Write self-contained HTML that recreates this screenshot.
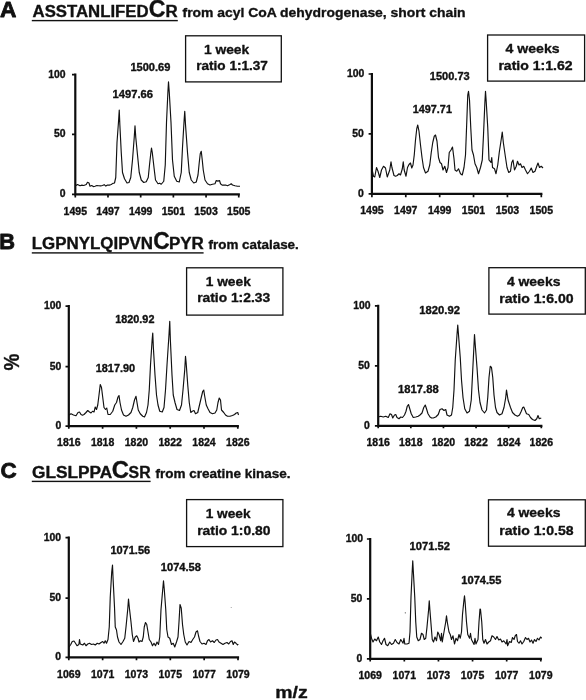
<!DOCTYPE html>
<html><head><meta charset="utf-8"><title>Figure</title>
<style>
html,body{margin:0;padding:0;background:#fff;}
svg{display:block;font-family:'Liberation Sans', Arial, Helvetica, sans-serif;font-weight:bold;fill:#111;}
text{stroke:#111;stroke-width:0.35px;stroke-linejoin:round;}
</style></head>
<body>
<svg width="586" height="700" viewBox="0 0 586 700">
<rect width="586" height="700" fill="#fff"/>
<path d="M75.30 73.50V194.30H239.85" fill="none" stroke="#0d0d0d" stroke-width="2.2" stroke-linejoin="miter"/>
<path d="M75.30 194.30h-3.3M75.30 134.45h-3.3M75.30 74.60h-3.3M75.30 194.30v3.3M107.99 194.30v3.3M140.68 194.30v3.3M173.37 194.30v3.3M206.06 194.30v3.3M238.75 194.30v3.3" fill="none" stroke="#0d0d0d" stroke-width="1.7"/>
<text x="65.60" y="197.20" font-size="10.4" text-anchor="end">0</text>
<text x="65.60" y="137.35" font-size="10.4" text-anchor="end">50</text>
<text x="65.60" y="77.50" font-size="10.4" text-anchor="end">100</text>
<text x="75.30" y="214.50" font-size="10.4" text-anchor="middle" textLength="23.40" lengthAdjust="spacingAndGlyphs">1495</text>
<text x="107.99" y="214.50" font-size="10.4" text-anchor="middle" textLength="23.40" lengthAdjust="spacingAndGlyphs">1497</text>
<text x="140.68" y="214.50" font-size="10.4" text-anchor="middle" textLength="23.40" lengthAdjust="spacingAndGlyphs">1499</text>
<text x="173.37" y="214.50" font-size="10.4" text-anchor="middle" textLength="23.40" lengthAdjust="spacingAndGlyphs">1501</text>
<text x="206.06" y="214.50" font-size="10.4" text-anchor="middle" textLength="23.40" lengthAdjust="spacingAndGlyphs">1503</text>
<text x="238.75" y="214.50" font-size="10.4" text-anchor="middle" textLength="23.40" lengthAdjust="spacingAndGlyphs">1505</text>
<polyline points="75.50,185.75 77.50,184.50 80.00,185.75 81.88,185.13 83.75,185.50 86.25,184.50 87.50,182.25 89.00,183.00 90.00,186.25 91.67,185.49 93.33,186.57 95.00,186.25 96.88,185.51 98.75,185.75 100.62,185.86 102.50,185.50 104.17,184.68 105.83,186.08 107.50,185.00 109.38,185.08 111.25,184.50 112.88,183.36 114.50,183.00 115.75,177.50 117.00,142.50 118.63,120.00 119.25,110.00 119.87,125.00 121.25,152.50 122.50,172.50 124.50,178.75 127.00,183.00 129.00,182.50 130.75,177.50 132.50,160.00 134.22,137.50 135.00,125.75 135.78,137.50 137.50,155.00 139.25,172.50 141.25,180.00 143.75,182.50 146.25,181.75 148.25,177.50 149.50,165.00 150.88,152.50 151.50,148.00 152.28,152.50 154.00,167.50 155.50,180.00 158.00,183.75 159.62,183.17 161.25,184.25 163.75,181.25 165.25,165.00 166.50,122.50 167.88,92.50 168.50,81.75 169.28,92.50 171.00,122.50 172.50,160.00 174.25,176.25 176.75,181.25 179.25,182.00 181.25,172.50 182.50,147.50 184.13,120.00 184.75,111.25 185.53,125.00 187.50,152.50 189.25,172.50 191.25,180.00 193.75,183.00 196.25,182.00 198.00,175.00 199.25,162.50 200.25,153.75 201.25,151.25 202.25,160.00 203.25,170.00 205.00,180.00 207.50,183.75 210.00,185.00 212.50,184.25 215.00,183.75 216.25,180.50 217.88,181.14 219.50,180.50 220.50,183.75 222.12,185.13 223.75,185.00 225.62,185.07 227.50,185.75 230.00,184.50 231.25,183.75 232.50,185.00 235.00,185.75 237.50,186.25 240.00,186.25" fill="none" stroke="#111" stroke-width="1.15" stroke-linejoin="round"/>
<path d="M371.90 72.90V193.90H542.40" fill="none" stroke="#0d0d0d" stroke-width="2.2" stroke-linejoin="miter"/>
<path d="M371.90 193.90h-3.3M371.90 133.95h-3.3M371.90 74.00h-3.3M371.90 193.90v3.3M405.78 193.90v3.3M439.66 193.90v3.3M473.54 193.90v3.3M507.42 193.90v3.3M541.30 193.90v3.3" fill="none" stroke="#0d0d0d" stroke-width="1.7"/>
<text x="363.80" y="196.80" font-size="10.4" text-anchor="end">0</text>
<text x="363.80" y="136.85" font-size="10.4" text-anchor="end">50</text>
<text x="364.40" y="76.90" font-size="10.4" text-anchor="end">100</text>
<text x="371.90" y="214.10" font-size="10.4" text-anchor="middle" textLength="23.40" lengthAdjust="spacingAndGlyphs">1495</text>
<text x="405.78" y="214.10" font-size="10.4" text-anchor="middle" textLength="23.40" lengthAdjust="spacingAndGlyphs">1497</text>
<text x="439.66" y="214.10" font-size="10.4" text-anchor="middle" textLength="23.40" lengthAdjust="spacingAndGlyphs">1499</text>
<text x="473.54" y="214.10" font-size="10.4" text-anchor="middle" textLength="23.40" lengthAdjust="spacingAndGlyphs">1501</text>
<text x="507.42" y="214.10" font-size="10.4" text-anchor="middle" textLength="23.40" lengthAdjust="spacingAndGlyphs">1503</text>
<text x="541.30" y="214.10" font-size="10.4" text-anchor="middle" textLength="23.40" lengthAdjust="spacingAndGlyphs">1505</text>
<polyline points="372.25,170.00 373.50,176.25 374.75,177.00 376.50,167.50 378.00,171.25 379.75,177.50 381.50,170.00 383.50,166.25 385.50,168.00 387.25,177.00 389.76,170.00 391.00,161.75 391.93,167.50 394.00,175.50 395.62,176.21 397.25,175.50 399.00,173.75 400.50,175.00 402.32,168.75 403.25,161.75 404.18,170.00 406.00,176.25 407.50,167.50 409.00,164.50 410.50,163.00 411.75,168.00 413.00,165.00 414.25,155.00 415.50,140.00 416.75,128.75 417.75,125.00 419.00,131.25 420.50,145.00 422.00,157.50 423.50,167.50 425.50,173.00 428.00,171.25 429.75,165.00 431.25,152.50 432.75,142.50 434.25,136.25 435.50,135.00 437.00,141.25 438.50,157.50 440.00,162.50 441.50,163.75 443.00,170.00 444.75,166.25 446.50,172.50 448.00,167.50 449.25,152.50 451.00,150.00 452.50,147.00 454.00,158.75 455.00,170.00 456.75,171.25 458.50,168.75 460.50,173.75 462.25,175.00 464.00,167.50 465.50,155.00 466.75,122.50 467.75,95.00 468.50,91.25 469.50,100.00 470.75,127.50 472.00,150.00 473.50,155.00 475.00,163.75 476.75,167.50 478.50,173.75 480.50,167.50 482.25,160.00 483.50,135.00 484.88,102.50 485.50,91.25 486.12,100.00 487.75,127.50 489.00,160.00 490.98,162.50 491.75,157.50 492.52,167.50 494.50,168.75 496.00,173.75 497.75,165.00 499.25,152.50 501.32,138.75 502.25,132.00 503.33,142.50 505.50,157.50 507.00,167.50 508.75,172.50 510.50,171.25 511.75,162.50 513.00,160.00 514.50,170.00 516.25,166.25 517.50,161.25 519.00,165.00 520.50,163.75 522.00,167.50 523.75,166.25 525.50,170.00 527.50,173.75 529.50,171.25 531.25,168.00 533.00,172.50 535.00,171.25 536.75,166.25 538.00,163.00 539.50,167.50 541.25,166.25 543.00,168.00" fill="none" stroke="#111" stroke-width="1.15" stroke-linejoin="round"/>
<path d="M68.80 305.10V426.20H238.90" fill="none" stroke="#0d0d0d" stroke-width="2.2" stroke-linejoin="miter"/>
<path d="M68.80 426.20h-3.3M68.80 366.70h-3.3M68.80 306.20h-3.3M68.80 426.20v2.5M102.60 426.20v2.5M136.40 426.20v2.5M170.20 426.20v2.5M204.00 426.20v2.5M237.80 426.20v2.5" fill="none" stroke="#0d0d0d" stroke-width="1.7"/>
<text x="61.40" y="429.10" font-size="10.4" text-anchor="end">0</text>
<text x="61.40" y="369.60" font-size="10.4" text-anchor="end">50</text>
<text x="61.40" y="309.10" font-size="10.4" text-anchor="end">100</text>
<text x="68.80" y="446.40" font-size="10.4" text-anchor="middle" textLength="23.40" lengthAdjust="spacingAndGlyphs">1816</text>
<text x="102.60" y="446.40" font-size="10.4" text-anchor="middle" textLength="23.40" lengthAdjust="spacingAndGlyphs">1818</text>
<text x="136.40" y="446.40" font-size="10.4" text-anchor="middle" textLength="23.40" lengthAdjust="spacingAndGlyphs">1820</text>
<text x="170.20" y="446.40" font-size="10.4" text-anchor="middle" textLength="23.40" lengthAdjust="spacingAndGlyphs">1822</text>
<text x="204.00" y="446.40" font-size="10.4" text-anchor="middle" textLength="23.40" lengthAdjust="spacingAndGlyphs">1824</text>
<text x="237.80" y="446.40" font-size="10.4" text-anchor="middle" textLength="23.40" lengthAdjust="spacingAndGlyphs">1826</text>
<polyline points="69.00,415.00 71.00,413.75 73.50,415.00 76.00,415.75 78.00,412.50 79.50,412.00 81.00,414.50 82.50,415.21 84.00,414.50 86.00,412.50 87.75,410.50 89.50,412.00 91.00,413.00 92.50,411.25 94.00,412.00 95.25,407.00 96.50,409.50 97.75,405.00 99.00,395.00 100.25,384.50 101.50,387.50 102.75,397.50 104.00,407.50 105.50,409.50 106.75,408.00 108.00,414.50 110.25,414.50 112.75,411.25 114.75,405.00 116.50,402.50 118.00,397.00 119.00,395.50 120.00,402.50 121.50,410.00 123.50,415.00 126.00,416.25 128.50,415.00 131.00,412.50 132.75,407.50 134.50,400.00 136.00,396.25 137.00,402.50 138.25,410.00 140.25,413.75 142.75,416.25 144.50,417.00 146.50,412.50 148.00,405.00 149.25,390.00 150.50,365.00 152.13,340.00 152.75,333.00 153.37,347.50 155.00,375.00 156.50,395.00 158.00,405.00 159.75,411.25 162.25,412.00 164.00,407.50 165.50,390.00 167.00,365.00 168.97,335.00 169.75,321.25 170.37,340.00 172.00,375.00 173.25,395.00 175.00,402.50 177.00,409.50 179.50,410.50 181.50,405.00 183.00,390.00 184.72,370.00 185.50,356.25 186.12,362.50 187.75,385.00 189.25,402.50 190.75,412.50 192.25,411.25 194.00,410.50 195.50,413.75 197.75,412.50 199.50,405.00 201.25,397.50 202.75,391.25 203.75,390.00 204.50,395.00 206.25,405.00 208.00,408.75 210.00,412.50 212.50,413.75 215.00,413.00 216.75,410.00 218.00,402.50 219.25,398.00 220.50,400.00 221.50,410.00 223.75,412.50 225.50,415.00 227.50,416.25 230.00,416.25 232.50,415.50 234.50,414.50 236.25,413.00 237.75,412.50 238.50,415.00" fill="none" stroke="#111" stroke-width="1.15" stroke-linejoin="round"/>
<path d="M378.20 304.70V425.80H542.40" fill="none" stroke="#0d0d0d" stroke-width="2.2" stroke-linejoin="miter"/>
<path d="M378.20 425.80h-3.3M378.20 365.80h-3.3M378.20 305.80h-3.3M378.20 425.80v2.5M410.82 425.80v2.5M443.44 425.80v2.5M476.06 425.80v2.5M508.68 425.80v2.5M541.30 425.80v2.5" fill="none" stroke="#0d0d0d" stroke-width="1.7"/>
<text x="369.90" y="428.70" font-size="10.4" text-anchor="end">0</text>
<text x="369.90" y="368.70" font-size="10.4" text-anchor="end">50</text>
<text x="370.50" y="308.70" font-size="10.4" text-anchor="end">100</text>
<text x="378.20" y="446.00" font-size="10.4" text-anchor="middle" textLength="23.40" lengthAdjust="spacingAndGlyphs">1816</text>
<text x="410.82" y="446.00" font-size="10.4" text-anchor="middle" textLength="23.40" lengthAdjust="spacingAndGlyphs">1818</text>
<text x="443.44" y="446.00" font-size="10.4" text-anchor="middle" textLength="23.40" lengthAdjust="spacingAndGlyphs">1820</text>
<text x="476.06" y="446.00" font-size="10.4" text-anchor="middle" textLength="23.40" lengthAdjust="spacingAndGlyphs">1822</text>
<text x="508.68" y="446.00" font-size="10.4" text-anchor="middle" textLength="23.40" lengthAdjust="spacingAndGlyphs">1824</text>
<text x="541.30" y="446.00" font-size="10.4" text-anchor="middle" textLength="23.40" lengthAdjust="spacingAndGlyphs">1826</text>
<polyline points="378.25,417.00 380.75,416.25 383.25,417.00 385.75,416.25 388.25,417.50 390.00,413.75 391.50,414.50 392.75,418.00 394.50,415.00 395.75,414.50 397.00,417.50 399.00,418.75 400.75,417.00 402.50,417.50 404.50,415.00 406.00,411.25 407.25,406.25 408.50,404.50 409.75,408.75 411.25,413.75 413.25,417.50 415.75,417.00 418.25,416.25 420.00,415.00 422.00,413.00 423.75,407.50 425.25,405.00 426.50,408.75 428.00,413.75 430.00,417.00 431.62,418.05 433.25,418.00 435.75,417.00 438.25,414.50 440.00,409.50 442.00,408.75 444.00,410.50 445.75,409.50 447.00,415.00 449.50,416.25 451.50,415.00 452.75,407.50 454.00,390.00 455.25,360.00 456.98,335.00 457.75,325.00 458.52,335.00 460.25,357.50 461.50,380.00 463.00,397.50 464.75,408.75 467.00,413.00 469.50,411.25 471.25,400.00 472.50,375.00 473.88,347.50 474.50,334.50 475.27,345.00 477.00,367.50 478.50,390.00 480.00,402.50 482.00,410.00 484.50,413.00 486.50,410.00 487.75,397.50 489.00,377.50 490.25,366.25 491.50,367.50 492.75,377.50 494.00,395.00 495.50,407.50 497.00,412.50 499.50,415.00 502.00,413.75 504.00,407.50 505.73,397.50 506.50,390.00 508.05,400.00 510.50,407.50 512.50,412.50 515.00,415.00 517.50,416.25 519.50,415.00 521.25,411.25 522.75,407.50 523.75,407.00 525.00,410.00 526.50,413.75 528.75,414.50 530.50,417.50 532.50,419.50 535.00,420.50 536.75,418.75 538.00,415.50 539.25,418.75 541.25,418.00" fill="none" stroke="#111" stroke-width="1.15" stroke-linejoin="round"/>
<path d="M68.80 536.50V657.40H239.10" fill="none" stroke="#0d0d0d" stroke-width="2.2" stroke-linejoin="miter"/>
<path d="M68.80 657.40h-3.3M68.80 598.10h-3.3M68.80 537.60h-3.3M68.80 657.40v2.8M102.64 657.40v2.8M136.48 657.40v2.8M170.32 657.40v2.8M204.16 657.40v2.8M238.00 657.40v2.8" fill="none" stroke="#0d0d0d" stroke-width="1.7"/>
<text x="61.10" y="660.30" font-size="10.4" text-anchor="end">0</text>
<text x="61.10" y="601.00" font-size="10.4" text-anchor="end">50</text>
<text x="61.10" y="540.50" font-size="10.4" text-anchor="end">100</text>
<text x="68.80" y="677.60" font-size="10.4" text-anchor="middle" textLength="23.40" lengthAdjust="spacingAndGlyphs">1069</text>
<text x="102.64" y="677.60" font-size="10.4" text-anchor="middle" textLength="23.40" lengthAdjust="spacingAndGlyphs">1071</text>
<text x="136.48" y="677.60" font-size="10.4" text-anchor="middle" textLength="23.40" lengthAdjust="spacingAndGlyphs">1073</text>
<text x="170.32" y="677.60" font-size="10.4" text-anchor="middle" textLength="23.40" lengthAdjust="spacingAndGlyphs">1075</text>
<text x="204.16" y="677.60" font-size="10.4" text-anchor="middle" textLength="23.40" lengthAdjust="spacingAndGlyphs">1077</text>
<text x="238.00" y="677.60" font-size="10.4" text-anchor="middle" textLength="23.40" lengthAdjust="spacingAndGlyphs">1079</text>
<polyline points="69.00,647.00 70.75,644.50 72.25,641.50 74.00,641.00 75.50,643.25 77.00,645.75 78.88,644.50 79.50,639.50 80.28,644.00 82.75,645.00 84.50,643.25 86.00,645.75 87.75,644.00 89.50,643.25 91.50,644.50 93.50,644.00 95.25,645.00 97.25,643.25 99.00,644.00 101.00,642.50 102.75,641.50 104.00,643.25 105.25,640.75 106.50,643.25 108.00,639.50 109.25,627.00 110.25,597.00 111.72,572.00 112.50,565.00 113.12,579.50 114.50,607.00 115.25,627.00 116.50,630.00 117.50,637.00 119.00,642.00 121.00,644.50 123.00,641.50 124.75,638.25 126.00,627.00 127.72,609.50 128.50,599.00 129.28,607.00 131.00,622.00 132.25,634.50 133.50,641.50 135.25,637.00 136.75,635.75 138.00,638.25 139.00,642.00 140.50,640.75 142.00,641.50 143.25,637.00 144.25,627.00 145.50,622.50 146.75,624.50 148.00,632.00 149.25,639.50 151.00,642.00 152.50,645.75 154.00,643.25 155.50,645.75 157.00,642.00 158.50,644.50 159.75,637.00 161.00,609.50 162.72,589.50 163.50,580.75 164.28,589.50 165.75,609.50 166.75,629.50 168.00,637.00 169.75,638.25 171.50,644.50 173.25,643.25 174.75,647.00 176.50,642.00 178.00,637.00 179.00,622.00 180.00,604.50 181.25,608.25 182.50,624.50 183.75,634.50 185.25,642.00 187.00,645.00 189.00,641.50 191.00,642.50 192.75,639.50 194.50,637.00 196.00,632.00 197.50,630.75 198.50,635.75 200.00,641.50 202.00,644.00 204.00,643.25 206.00,644.50 207.50,640.75 209.00,639.50 210.50,642.00 212.50,640.75 214.25,642.50 216.00,640.00 217.50,639.50 219.00,642.00 221.00,643.25 223.00,644.50 225.00,643.25 227.00,642.50 228.75,644.00 230.50,641.50 232.00,640.75 233.25,644.50 234.50,642.00 236.00,643.25 237.50,645.00 238.25,644.00" fill="none" stroke="#111" stroke-width="1.15" stroke-linejoin="round"/>
<path d="M370.20 537.90V658.80H541.90" fill="none" stroke="#0d0d0d" stroke-width="2.2" stroke-linejoin="miter"/>
<path d="M370.20 658.80h-3.3M370.20 598.90h-3.3M370.20 539.00h-3.3M370.20 658.80v2.8M404.32 658.80v2.8M438.44 658.80v2.8M472.56 658.80v2.8M506.68 658.80v2.8M540.80 658.80v2.8" fill="none" stroke="#0d0d0d" stroke-width="1.7"/>
<text x="362.40" y="661.70" font-size="10.4" text-anchor="end">0</text>
<text x="362.40" y="601.80" font-size="10.4" text-anchor="end">50</text>
<text x="363.00" y="541.90" font-size="10.4" text-anchor="end">100</text>
<text x="370.20" y="679.00" font-size="10.4" text-anchor="middle" textLength="23.40" lengthAdjust="spacingAndGlyphs">1069</text>
<text x="404.32" y="679.00" font-size="10.4" text-anchor="middle" textLength="23.40" lengthAdjust="spacingAndGlyphs">1071</text>
<text x="438.44" y="679.00" font-size="10.4" text-anchor="middle" textLength="23.40" lengthAdjust="spacingAndGlyphs">1073</text>
<text x="472.56" y="679.00" font-size="10.4" text-anchor="middle" textLength="23.40" lengthAdjust="spacingAndGlyphs">1075</text>
<text x="506.68" y="679.00" font-size="10.4" text-anchor="middle" textLength="23.40" lengthAdjust="spacingAndGlyphs">1077</text>
<text x="540.80" y="679.00" font-size="10.4" text-anchor="middle" textLength="23.40" lengthAdjust="spacingAndGlyphs">1079</text>
<polyline points="370.25,633.25 371.50,638.25 373.00,642.00 374.75,639.00 376.50,640.75 378.25,637.00 379.75,642.00 381.50,644.50 383.00,640.75 384.50,638.25 386.00,644.50 387.75,645.75 389.75,642.00 391.50,644.50 393.50,643.25 395.25,639.50 397.00,642.50 399.00,644.00 400.75,639.50 403.07,643.25 404.00,638.25 404.77,644.00 407.00,644.00 409.00,643.25 410.00,632.00 411.00,597.00 412.29,569.50 412.75,560.75 413.37,572.00 414.75,597.00 415.75,622.00 416.75,637.00 418.25,640.75 420.00,639.50 421.50,633.25 423.00,634.50 424.25,639.50 425.75,638.25 427.00,627.00 428.63,609.50 429.25,600.75 429.87,609.50 431.25,627.00 432.25,639.50 433.50,642.00 435.00,637.00 436.50,640.75 437.75,632.00 439.00,634.50 440.73,640.75 441.50,633.25 442.27,642.00 444.00,632.00 445.73,622.00 446.50,615.75 447.27,622.00 449.00,632.00 450.25,634.50 451.50,639.50 453.00,635.75 454.50,644.00 456.00,638.25 457.50,640.75 459.00,634.50 460.25,638.25 461.50,632.00 462.50,614.50 463.88,600.75 464.50,595.75 465.12,602.00 466.50,622.00 467.75,634.50 469.57,638.25 470.50,633.25 471.43,639.50 474.07,644.50 475.00,638.25 475.93,644.00 478.00,639.50 479.00,622.00 480.00,609.00 480.50,609.50 481.75,622.00 482.75,639.50 484.00,643.25 485.50,639.50 487.00,644.00 488.75,642.00 490.50,640.75 492.00,635.75 493.75,637.00 495.50,639.50 497.00,636.50 498.75,640.00 500.50,639.00 502.00,642.00 503.75,640.75 506.07,644.00 507.00,639.50 507.62,645.75 509.50,641.50 511.25,642.50 512.50,637.50 514.00,639.50 515.25,635.75 516.50,634.50 517.50,641.50 519.00,643.25 520.50,640.75 522.00,644.00 523.75,641.50 525.50,637.50 527.00,639.50 528.50,638.25 530.00,642.00 531.50,640.00 533.00,643.25 534.50,639.50 536.00,641.50 537.50,638.25 539.00,640.00 540.50,637.00 541.75,638.25" fill="none" stroke="#111" stroke-width="1.15" stroke-linejoin="round"/>
<rect x="185.6" y="35.8" width="95.70" height="46.10" fill="none" stroke="#111" stroke-width="1.3"/>
<text x="203.90" y="53.70" font-size="13.4" text-anchor="start" textLength="45.30" lengthAdjust="spacingAndGlyphs">1 week</text>
<text x="196.20" y="70.40" font-size="13.4" text-anchor="start" textLength="71.70" lengthAdjust="spacingAndGlyphs">ratio 1:1.37</text>
<rect x="487.6" y="35.0" width="97.00" height="46.10" fill="none" stroke="#111" stroke-width="1.3"/>
<text x="505.60" y="52.80" font-size="13.4" text-anchor="start" textLength="54.00" lengthAdjust="spacingAndGlyphs">4 weeks</text>
<text x="498.40" y="69.80" font-size="13.4" text-anchor="start" textLength="74.30" lengthAdjust="spacingAndGlyphs">ratio 1:1.62</text>
<rect x="186.6" y="267.8" width="96.30" height="47.30" fill="none" stroke="#111" stroke-width="1.3"/>
<text x="205.70" y="286.00" font-size="13.4" text-anchor="start" textLength="45.10" lengthAdjust="spacingAndGlyphs">1 week</text>
<text x="197.20" y="302.40" font-size="13.4" text-anchor="start" textLength="72.90" lengthAdjust="spacingAndGlyphs">ratio 1:2.33</text>
<rect x="488.9" y="267.7" width="96.40" height="46.40" fill="none" stroke="#111" stroke-width="1.3"/>
<text x="506.90" y="285.80" font-size="13.4" text-anchor="start" textLength="53.50" lengthAdjust="spacingAndGlyphs">4 weeks</text>
<text x="499.30" y="302.60" font-size="13.4" text-anchor="start" textLength="74.30" lengthAdjust="spacingAndGlyphs">ratio 1:6.00</text>
<rect x="186.6" y="499.6" width="96.30" height="47.00" fill="none" stroke="#111" stroke-width="1.3"/>
<text x="205.70" y="518.00" font-size="13.4" text-anchor="start" textLength="44.90" lengthAdjust="spacingAndGlyphs">1 week</text>
<text x="197.20" y="534.50" font-size="13.4" text-anchor="start" textLength="73.30" lengthAdjust="spacingAndGlyphs">ratio 1:0.80</text>
<rect x="488.5" y="499.8" width="96.80" height="46.40" fill="none" stroke="#111" stroke-width="1.3"/>
<text x="506.90" y="517.40" font-size="13.4" text-anchor="start" textLength="53.50" lengthAdjust="spacingAndGlyphs">4 weeks</text>
<text x="499.30" y="534.70" font-size="13.4" text-anchor="start" textLength="74.30" lengthAdjust="spacingAndGlyphs">ratio 1:0.58</text>
<text x="130.40" y="70.60" font-size="10.4" text-anchor="start" textLength="40.00" lengthAdjust="spacingAndGlyphs">1500.69</text>
<text x="112.60" y="97.50" font-size="10.4" text-anchor="start" textLength="40.40" lengthAdjust="spacingAndGlyphs">1497.66</text>
<text x="429.80" y="79.50" font-size="10.4" text-anchor="start" textLength="39.85" lengthAdjust="spacingAndGlyphs">1500.73</text>
<text x="412.80" y="113.00" font-size="10.4" text-anchor="start" textLength="39.10" lengthAdjust="spacingAndGlyphs">1497.71</text>
<text x="115.30" y="323.00" font-size="10.4" text-anchor="start" textLength="39.10" lengthAdjust="spacingAndGlyphs">1820.92</text>
<text x="95.70" y="372.00" font-size="10.4" text-anchor="start" textLength="39.45" lengthAdjust="spacingAndGlyphs">1817.90</text>
<text x="419.30" y="314.25" font-size="10.4" text-anchor="start" textLength="40.60" lengthAdjust="spacingAndGlyphs">1820.92</text>
<text x="398.05" y="392.50" font-size="10.4" text-anchor="start" textLength="40.60" lengthAdjust="spacingAndGlyphs">1817.88</text>
<text x="110.40" y="553.75" font-size="10.4" text-anchor="start" textLength="39.75" lengthAdjust="spacingAndGlyphs">1071.56</text>
<text x="160.80" y="570.75" font-size="10.4" text-anchor="start" textLength="40.10" lengthAdjust="spacingAndGlyphs">1074.58</text>
<text x="409.55" y="549.50" font-size="10.4" text-anchor="start" textLength="40.35" lengthAdjust="spacingAndGlyphs">1071.52</text>
<text x="461.30" y="583.75" font-size="10.4" text-anchor="start" textLength="40.10" lengthAdjust="spacingAndGlyphs">1074.55</text>
<text x="0.10" y="16.80" font-size="22.2" text-anchor="start" textLength="16.40" lengthAdjust="spacingAndGlyphs" style="stroke-width:0.8px">A</text>
<text x="-0.70" y="249.20" font-size="22.2" text-anchor="start" textLength="15.80" lengthAdjust="spacingAndGlyphs" style="stroke-width:0.8px">B</text>
<text x="0.60" y="477.80" font-size="22.2" text-anchor="start" textLength="16.20" lengthAdjust="spacingAndGlyphs" style="stroke-width:0.8px">C</text>
<text y="16.80"><tspan x="32.60" font-size="15.8" textLength="116.00" lengthAdjust="spacingAndGlyphs">ASSTANLIFED</tspan><tspan x="148.75" font-size="23.2" textLength="16.70" lengthAdjust="spacingAndGlyphs">C</tspan><tspan x="165.60" font-size="15.8" textLength="12.20" lengthAdjust="spacingAndGlyphs">R</tspan></text>
<rect x="31.8" y="19.90" width="146.00" height="1.4" fill="#111"/>
<text x="182.50" y="16.80" font-size="13.2" text-anchor="start" textLength="283.00" lengthAdjust="spacingAndGlyphs">from acyl CoA dehydrogenase, short chain</text>
<text y="249.20"><tspan x="31.80" font-size="15.8" textLength="121.10" lengthAdjust="spacingAndGlyphs">LGPNYLQIPVN</tspan><tspan x="153.20" font-size="23.2" textLength="16.40" lengthAdjust="spacingAndGlyphs">C</tspan><tspan x="168.90" font-size="15.8" textLength="34.90" lengthAdjust="spacingAndGlyphs">PYR</tspan></text>
<rect x="31.8" y="252.20" width="171.80" height="1.4" fill="#111"/>
<text x="208.60" y="249.20" font-size="13.2" text-anchor="start" textLength="90.20" lengthAdjust="spacingAndGlyphs">from catalase.</text>
<text y="478.00"><tspan x="32.00" font-size="15.8" textLength="80.30" lengthAdjust="spacingAndGlyphs">GLSLPPA</tspan><tspan x="111.70" font-size="23.2" textLength="17.20" lengthAdjust="spacingAndGlyphs">C</tspan><tspan x="128.60" font-size="15.8" textLength="22.00" lengthAdjust="spacingAndGlyphs">SR</tspan></text>
<rect x="31.8" y="480.70" width="118.80" height="1.4" fill="#111"/>
<text x="155.60" y="478.00" font-size="13.2" text-anchor="start" textLength="135.00" lengthAdjust="spacingAndGlyphs">from creatine kinase.</text>
<text transform="translate(18.5 370.6) rotate(-90)" font-size="22" textLength="16.8" lengthAdjust="spacingAndGlyphs">%</text>
<text x="275.30" y="698.30" font-size="17" text-anchor="start" textLength="32.40" lengthAdjust="spacingAndGlyphs">m/z</text>
<circle cx="405.3" cy="612.8" r="0.6" fill="#444"/>
<circle cx="231.2" cy="607.5" r="0.5" fill="#888"/>
</svg>
</body></html>
